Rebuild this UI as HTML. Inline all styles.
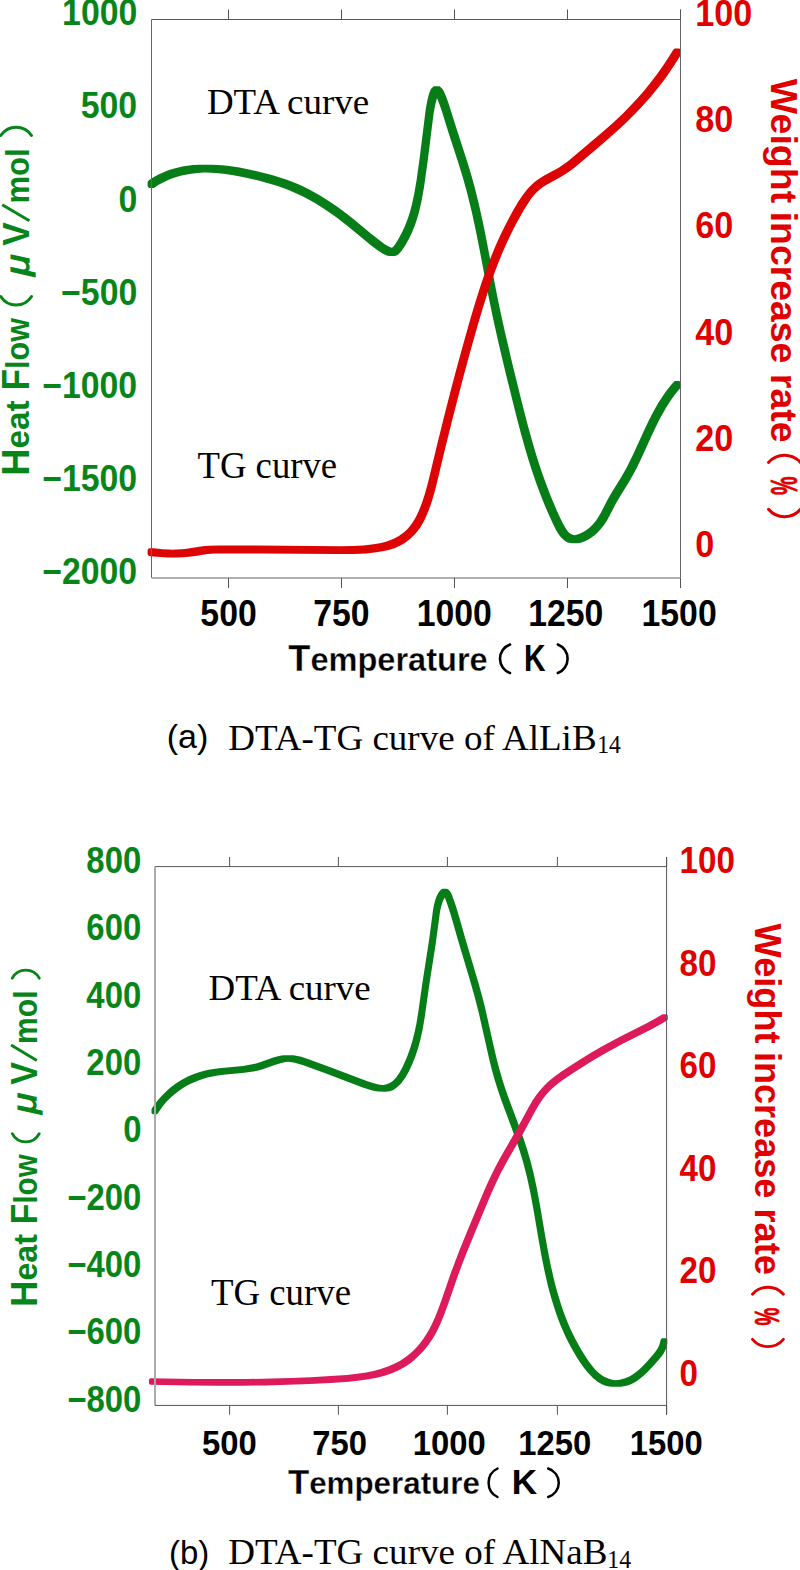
<!DOCTYPE html>
<html><head><meta charset="utf-8"><style>
html,body{margin:0;padding:0;background:#fff;width:800px;height:1570px;overflow:hidden}
svg{display:block}
</style></head><body>
<svg width="800" height="1570" viewBox="0 0 800 1570">
<rect width="800" height="1570" fill="#fff"/>
<path d="M182.29,166.58L174.32,168.43L169.11,170.06L166.53,171.00L161.44,173.14L158.93,174.34L153.99,177.03L149.16,180.10L147.60,181.66L147.60,186.34L149.16,187.90L153.84,187.90L158.67,184.83L163.61,182.14L168.65,179.83L171.21,178.80L176.38,177.01L181.64,175.54L189.66,173.91L195.08,173.18L203.29,172.57L206.90,172.50L215.24,172.91L223.60,173.74L231.95,174.92L240.25,176.41L248.47,178.14L256.60,180.05L264.60,182.13L272.50,184.42L277.70,186.09L287.97,189.82L293.03,191.90L298.06,194.15L303.05,196.57L310.43,200.50L315.29,203.30L322.46,207.73L329.47,212.40L336.30,217.27L347.24,225.70L363.96,239.60L370.53,244.89L377.56,250.18L382.54,253.54L385.03,254.87L387.45,255.74L389.76,256.01L394.44,256.01L396.60,255.52L398.54,254.15L400.10,252.59L401.86,250.53L405.05,245.73L409.23,238.32L411.65,233.26L414.80,225.53L416.61,220.29L418.94,212.31L421.46,201.51L423.91,187.83L427.41,163.07L433.53,113.90L435.11,105.24L436.98,98.12L439.68,104.96L441.64,110.62L448.14,131.45L458.39,163.08L463.29,179.10L467.00,192.51L471.63,211.35L475.74,230.26L479.52,249.22L487.79,292.71L492.81,317.21L498.88,344.42L505.95,374.21L516.59,417.12L520.78,433.07L524.47,446.31L528.40,459.52L531.76,470.08L536.27,483.25L540.16,493.78L544.33,504.30L548.83,514.83L553.67,525.35L556.28,530.44L557.69,532.80L559.18,534.99L560.78,536.94L564.06,540.18L565.91,541.55L567.91,542.54L570.09,543.12L572.44,543.25L577.12,543.25L579.60,542.96L582.18,542.30L584.81,541.31L587.44,540.03L590.03,538.51L592.52,536.79L594.88,534.91L597.06,532.91L600.62,529.26L604.14,524.85L607.16,520.18L609.84,515.35L614.83,505.50L617.46,500.64L620.29,495.89L629.12,481.79L633.22,474.57L637.05,467.20L640.68,459.72L652.21,434.52L655.76,427.01L659.46,419.60L662.06,414.73L666.19,407.55L670.66,400.57L675.54,393.82L680.90,387.34L680.90,382.66L679.34,381.10L674.66,381.10L673.10,382.66L671.26,384.79L666.07,391.37L662.86,395.89L658.39,402.87L654.26,410.05L649.17,419.85L644.41,429.84L632.88,455.04L626.72,467.44L621.32,477.11L612.49,491.21L609.66,495.96L607.03,500.82L600.73,513.10L597.90,517.86L596.34,520.17L592.82,524.58L590.20,527.11L587.84,528.99L585.35,530.71L582.76,532.23L580.13,533.51L577.50,534.50L574.41,535.22L572.59,534.74L570.59,533.75L568.74,532.38L566.98,530.31L565.49,528.12L562.75,523.26L560.22,518.04L556.63,510.15L551.06,496.99L545.98,483.83L541.32,470.67L537.02,457.48L533.04,444.28L527.87,425.73L521.68,401.77L511.79,361.43L504.81,331.58L500.61,312.53L497.21,296.20L486.79,241.83L482.98,222.87L478.80,203.97L474.80,187.83L471.86,177.10L467.86,163.73L455.94,126.77L448.50,103.16L446.36,97.29L443.83,91.34L442.49,89.05L439.61,86.17L433.67,86.16L430.93,89.07L429.85,91.41L428.88,94.35L427.31,100.56L425.73,109.22L419.96,155.64L416.54,180.40L414.20,194.11L411.83,204.95L409.63,212.96L407.93,218.24L404.96,226.02L402.67,231.12L398.72,238.61L395.70,243.48L394.06,245.85L393.29,246.75L391.92,247.72L391.68,247.78L389.71,247.07L387.22,245.74L384.71,244.13L379.83,240.62L370.79,233.56L354.03,219.61L347.62,214.49L338.73,207.83L329.50,201.46L319.97,195.50L310.20,190.04L302.74,186.35L297.71,184.10L292.65,182.02L287.53,180.09L279.78,177.44L271.93,175.07L263.96,172.92L255.87,170.95L247.68,169.16L239.40,167.59L231.07,166.30L222.71,165.34L217.14,164.93L211.58,164.70L204.13,164.67L198.61,164.77L193.12,165.11L187.68,165.71L182.29,166.58Z" fill="#067d17" fill-rule="nonzero"/>
<path d="M209.23,545.80L205.09,546.10L200.97,546.59L186.58,548.81L182.45,549.24L176.23,549.62L172.99,549.71L168.44,549.57L162.18,549.17L153.84,548.30L149.16,548.30L147.60,549.86L147.60,554.54L149.16,556.10L153.33,556.58L163.76,557.37L167.92,557.50L176.76,557.52L182.99,557.33L189.19,556.84L195.37,556.05L207.71,554.12L213.91,553.60L220.15,553.38L263.36,553.46L338.47,554.09L353.59,553.98L366.08,553.40L374.36,552.59L382.57,551.35L388.67,550.04L392.66,548.86L394.63,548.15L396.56,547.36L400.33,545.55L403.95,543.44L405.69,542.27L409.01,539.74L410.59,538.38L415.13,533.90L417.83,530.75L420.26,527.38L422.44,523.84L424.42,520.16L426.21,516.37L428.61,510.57L430.74,504.68L432.65,498.73L434.37,492.73L436.47,484.67L445.21,448.21L452.22,419.89L463.21,377.52L470.33,351.37L477.70,325.30L483.03,307.32L488.06,291.44L491.39,281.58L494.91,271.79L498.62,262.07L501.77,254.36L505.92,244.80L509.44,237.23L514.07,227.87L517.98,220.48L524.17,209.55L528.60,202.49L530.98,199.11L533.50,195.86L536.19,192.77L537.52,191.45L540.63,188.78L542.27,187.54L545.73,185.25L549.37,183.13L560.61,177.11L565.97,173.82L571.04,170.21L575.91,166.38L601.32,144.99L615.45,132.61L621.60,126.95L627.62,121.19L635.08,113.74L640.83,107.73L650.55,96.90L658.48,87.28L663.55,80.69L667.24,75.65L674.29,65.32L680.90,54.64L680.90,49.96L679.34,48.40L674.66,48.40L673.10,49.96L668.75,57.12L663.02,65.85L656.99,74.34L650.68,82.60L644.09,90.64L637.25,98.46L630.17,106.07L622.94,113.39L612.32,123.40L601.39,133.11L575.99,154.62L568.00,161.15L563.01,164.85L559.54,167.16L555.93,169.31L544.69,175.33L541.05,177.45L537.59,179.74L534.36,182.28L531.37,185.06L528.39,188.09L525.70,191.18L523.18,194.43L518.54,201.31L513.22,210.31L509.19,217.64L504.39,226.92L499.86,236.33L495.60,245.84L491.59,255.46L487.83,265.16L484.28,274.94L480.91,284.79L475.84,300.65L470.48,318.62L463.09,344.68L455.95,370.82L450.10,392.99L444.42,415.21L437.41,443.53L428.67,479.99L426.57,488.05L424.85,494.05L422.94,500.00L420.81,505.89L418.41,511.69L416.62,515.48L414.64,519.16L412.46,522.70L410.03,526.07L407.33,529.22L404.33,531.94L402.70,533.24L399.27,535.64L397.48,536.73L393.78,538.69L389.95,540.35L386.00,541.69L379.94,543.16L371.74,544.52L363.48,545.43L353.09,546.06L341.31,546.28L251.39,545.58L219.63,545.54L209.23,545.80Z" fill="#dc0404" fill-rule="nonzero"/>
<path d="M273.99,1057.32L261.35,1061.80L256.21,1063.38L253.62,1064.03L248.37,1065.09L243.08,1065.89L237.74,1066.49L219.03,1068.20L213.74,1068.89L208.50,1069.79L203.33,1070.98L198.26,1072.47L193.29,1074.26L188.43,1076.35L183.72,1078.72L181.42,1080.02L176.94,1082.82L174.76,1084.33L170.55,1087.55L168.52,1089.26L164.61,1092.90L161.42,1096.13L157.86,1100.17L154.55,1104.47L152.99,1106.71L151.50,1109.02L151.50,1112.98L152.82,1114.30L156.78,1114.30L158.10,1112.98L161.15,1108.43L162.77,1106.24L166.21,1102.08L170.50,1097.65L174.51,1094.15L178.72,1090.93L180.90,1089.42L185.38,1086.62L187.68,1085.32L192.39,1082.95L199.72,1079.93L207.29,1077.58L212.46,1076.39L217.70,1075.49L225.65,1074.52L244.37,1072.81L249.69,1072.12L254.96,1071.20L260.17,1069.98L262.75,1069.24L275.42,1064.75L280.48,1063.17L285.57,1062.09L288.03,1061.82L292.04,1062.26L294.69,1062.79L297.35,1063.45L302.63,1065.09L325.31,1073.37L362.78,1087.49L368.12,1089.31L373.41,1090.75L376.01,1091.25L378.56,1091.56L385.00,1091.67L387.41,1091.53L389.73,1091.13L391.95,1090.42L394.06,1089.40L396.06,1088.09L397.95,1086.51L399.27,1085.19L401.07,1083.38L402.77,1081.37L405.89,1076.84L408.69,1071.86L412.33,1064.04L415.40,1056.24L417.97,1048.47L420.11,1040.73L422.43,1030.43L424.68,1017.54L429.11,986.11L435.75,943.58L439.96,912.06L441.18,906.43L442.04,903.51L443.10,900.57L444.60,897.38L445.34,898.92L447.46,904.66L451.03,915.75L458.32,941.22L468.95,976.82L474.10,994.84L476.85,1005.20L479.39,1015.60L489.36,1059.86L491.96,1070.19L494.83,1080.44L498.03,1090.60L501.51,1100.69L512.67,1130.76L517.17,1143.32L520.52,1153.44L523.54,1163.64L526.83,1176.52L530.21,1192.12L533.15,1207.85L539.00,1242.09L541.37,1255.25L544.51,1270.95L547.48,1283.93L549.46,1291.66L551.60,1299.33L555.61,1311.98L558.30,1319.48L560.23,1324.43L563.33,1331.78L565.55,1336.63L569.12,1343.83L571.67,1348.56L577.19,1357.89L580.18,1362.48L583.34,1366.99L586.69,1371.30L588.46,1373.34L593.50,1378.43L595.48,1380.12L597.53,1381.66L599.66,1383.03L601.89,1384.22L604.20,1385.20L606.62,1385.97L609.14,1386.50L611.75,1386.80L618.38,1386.86L621.07,1386.69L623.76,1386.31L626.42,1385.71L629.00,1384.91L631.49,1383.92L633.89,1382.74L636.19,1381.41L640.54,1378.32L642.61,1376.61L646.57,1372.92L653.46,1365.71L658.76,1359.77L662.02,1355.75L663.47,1353.63L664.76,1351.37L665.85,1348.95L666.71,1346.33L667.30,1343.48L667.30,1339.52L665.98,1338.20L662.02,1338.20L660.70,1339.52L660.11,1342.37L659.25,1344.99L658.16,1347.41L656.87,1349.67L653.84,1353.83L646.86,1361.75L642.16,1366.75L638.65,1370.01L634.44,1373.33L632.23,1374.81L629.93,1376.14L627.53,1377.32L625.04,1378.31L622.46,1379.11L619.80,1379.71L615.59,1380.18L613.10,1379.90L610.58,1379.37L608.16,1378.60L605.85,1377.62L603.62,1376.43L601.49,1375.06L599.44,1373.52L597.46,1371.83L595.06,1369.38L593.29,1367.34L589.94,1363.03L586.78,1358.52L580.96,1349.30L575.72,1339.87L571.02,1330.25L568.87,1325.38L565.85,1318.00L563.98,1313.03L561.36,1305.51L557.47,1292.82L555.38,1285.13L553.46,1277.39L550.56,1264.38L547.97,1251.29L545.60,1238.13L539.75,1203.89L536.81,1188.16L533.43,1172.56L530.14,1159.68L527.12,1149.48L523.77,1139.36L519.27,1126.80L508.11,1096.73L504.63,1086.64L502.20,1079.03L499.25,1068.80L496.59,1058.49L493.54,1045.52L485.37,1009.03L482.10,996.05L478.54,983.14L465.66,939.79L459.18,917.04L455.94,906.36L454.06,900.70L451.94,894.96L450.79,892.54L449.57,890.77L448.25,889.45L446.98,888.63L443.02,888.63L441.69,888.97L439.02,891.71L437.71,893.91L436.50,896.61L435.44,899.55L434.58,902.47L433.90,905.32L432.94,910.83L429.15,939.62L422.51,982.15L418.08,1013.58L416.33,1023.90L414.74,1031.62L412.84,1039.35L410.57,1047.10L407.84,1054.87L405.73,1060.08L402.09,1067.90L399.29,1072.88L396.17,1077.41L393.93,1079.97L392.10,1081.49L390.10,1082.80L387.99,1083.82L385.77,1084.53L383.45,1084.93L382.52,1084.96L379.97,1084.65L377.37,1084.15L372.08,1082.71L366.74,1080.89L331.70,1067.67L309.21,1059.40L301.31,1056.85L296.00,1055.66L293.36,1055.31L290.74,1055.15L284.18,1055.21L281.61,1055.49L279.05,1055.95L273.99,1057.32Z" fill="#067d17" fill-rule="nonzero"/>
<path d="M150.27,1384.80L189.34,1385.48L215.75,1385.70L242.52,1385.68L265.34,1385.41L288.23,1384.85L309.47,1384.05L330.86,1382.92L348.83,1381.68L359.56,1380.59L368.37,1379.34L377.01,1377.65L385.41,1375.42L391.92,1373.17L398.20,1370.46L404.23,1367.23L407.14,1365.40L409.98,1363.42L414.08,1360.17L417.99,1356.60L421.80,1352.75L425.36,1348.73L428.69,1344.49L431.77,1340.07L434.60,1335.48L437.16,1330.77L440.93,1322.72L444.89,1312.86L448.49,1302.91L457.71,1276.27L461.40,1266.35L465.88,1254.82L473.20,1236.78L487.48,1202.45L491.63,1192.69L495.23,1184.63L500.58,1173.52L506.39,1162.64L523.16,1133.52L535.84,1110.06L539.45,1104.04L543.39,1098.29L545.51,1095.55L548.91,1091.64L551.25,1089.27L553.82,1086.93L556.50,1084.69L560.68,1081.47L569.41,1075.42L579.86,1068.65L588.90,1063.02L598.03,1057.55L607.24,1052.26L622.79,1043.87L651.08,1029.52L658.84,1025.29L664.96,1021.72L666.48,1020.80L667.80,1019.48L667.80,1015.52L666.48,1014.20L662.52,1014.20L654.88,1018.69L647.12,1022.92L620.40,1036.46L611.02,1041.39L601.74,1046.53L591.02,1052.75L580.41,1059.22L569.91,1065.89L561.04,1071.79L555.31,1075.93L549.86,1080.33L546.04,1083.87L541.15,1088.96L537.84,1092.95L535.77,1095.74L532.85,1100.08L528.37,1107.64L516.56,1129.56L503.27,1152.55L498.09,1161.77L493.18,1171.13L488.63,1180.67L485.03,1188.73L480.88,1198.49L466.60,1232.82L459.28,1250.86L454.80,1262.39L451.11,1272.31L441.89,1298.95L438.29,1308.90L435.02,1317.13L431.36,1325.22L428.88,1329.96L426.14,1334.59L423.14,1339.08L419.89,1343.38L416.41,1347.48L414.03,1350.00L410.12,1353.57L406.02,1356.82L403.18,1358.80L400.27,1360.63L394.24,1363.86L387.96,1366.57L381.45,1368.82L374.75,1370.65L366.16,1372.44L357.37,1373.77L346.66,1374.92L330.49,1376.10L310.84,1377.20L291.33,1378.02L271.93,1378.59L247.34,1379.01L221.46,1379.10L193.30,1378.88L150.27,1378.20L148.95,1379.52L148.95,1383.48L150.27,1384.80Z" fill="#dd1b5a" fill-rule="nonzero"/>
<line x1="151.50" y1="19.50" x2="680.50" y2="19.50" stroke="#555" stroke-width="1.00"/>
<line x1="151.50" y1="19.50" x2="151.50" y2="578.00" stroke="#666" stroke-width="1.00"/>
<line x1="680.50" y1="9.50" x2="680.50" y2="588.00" stroke="#666" stroke-width="1.00"/>
<line x1="151.50" y1="578.00" x2="680.50" y2="578.00" stroke="#b0b0b0" stroke-width="2.00"/>
<line x1="228.50" y1="9.50" x2="228.50" y2="19.50" stroke="#555" stroke-width="1.00"/>
<line x1="228.50" y1="578.00" x2="228.50" y2="588.00" stroke="#555" stroke-width="1.00"/>
<line x1="341.50" y1="9.50" x2="341.50" y2="19.50" stroke="#555" stroke-width="1.00"/>
<line x1="341.50" y1="578.00" x2="341.50" y2="588.00" stroke="#555" stroke-width="1.00"/>
<line x1="454.50" y1="9.50" x2="454.50" y2="19.50" stroke="#555" stroke-width="1.00"/>
<line x1="454.50" y1="578.00" x2="454.50" y2="588.00" stroke="#555" stroke-width="1.00"/>
<line x1="567.50" y1="9.50" x2="567.50" y2="19.50" stroke="#555" stroke-width="1.00"/>
<line x1="567.50" y1="578.00" x2="567.50" y2="588.00" stroke="#555" stroke-width="1.00"/>
<line x1="680.50" y1="9.50" x2="680.50" y2="19.50" stroke="#555" stroke-width="1.00"/>
<line x1="680.50" y1="578.00" x2="680.50" y2="588.00" stroke="#555" stroke-width="1.00"/>
<path d="M510.00,644.50 A15.15,15.15 0 0 0 510.00,673.00" fill="none" stroke="#000" stroke-width="2.60" stroke-linecap="round"/>
<path d="M557.80,644.50 A15.26,15.26 0 0 1 557.80,673.00" fill="none" stroke="#000" stroke-width="2.60" stroke-linecap="round"/>
<line x1="2.20" y1="204.80" x2="29.40" y2="220.80" stroke="#088519" stroke-width="3.00" stroke-linecap="butt"/>
<path d="M0.80,296.50 A18.11,18.11 0 0 0 31.50,296.50" fill="none" stroke="#088519" stroke-width="3.00" stroke-linecap="round"/>
<path d="M0.80,135.50 A18.34,18.34 0 0 1 31.50,135.50" fill="none" stroke="#088519" stroke-width="3.00" stroke-linecap="round"/>
<path d="M768.50,462.50 A21.38,21.38 0 0 1 800.50,462.50" fill="none" stroke="#e00000" stroke-width="3.00" stroke-linecap="round"/>
<path d="M768.50,509.30 A20.82,20.82 0 0 0 800.50,509.30" fill="none" stroke="#e00000" stroke-width="3.00" stroke-linecap="round"/>
<line x1="155.00" y1="866.60" x2="666.60" y2="866.60" stroke="#555" stroke-width="1.00"/>
<line x1="155.00" y1="866.60" x2="155.00" y2="1405.40" stroke="#aaa" stroke-width="2.00"/>
<line x1="666.60" y1="857.00" x2="666.60" y2="1414.70" stroke="#555" stroke-width="1.00"/>
<line x1="155.00" y1="1405.40" x2="666.60" y2="1405.40" stroke="#555" stroke-width="1.00"/>
<line x1="229.60" y1="857.00" x2="229.60" y2="866.60" stroke="#555" stroke-width="1.00"/>
<line x1="229.60" y1="1405.40" x2="229.60" y2="1414.70" stroke="#555" stroke-width="1.00"/>
<line x1="338.40" y1="857.00" x2="338.40" y2="866.60" stroke="#555" stroke-width="1.00"/>
<line x1="338.40" y1="1405.40" x2="338.40" y2="1414.70" stroke="#555" stroke-width="1.00"/>
<line x1="447.40" y1="857.00" x2="447.40" y2="866.60" stroke="#555" stroke-width="1.00"/>
<line x1="447.40" y1="1405.40" x2="447.40" y2="1414.70" stroke="#555" stroke-width="1.00"/>
<line x1="557.40" y1="857.00" x2="557.40" y2="866.60" stroke="#555" stroke-width="1.00"/>
<line x1="557.40" y1="1405.40" x2="557.40" y2="1414.70" stroke="#555" stroke-width="1.00"/>
<line x1="666.60" y1="857.00" x2="666.60" y2="866.60" stroke="#555" stroke-width="1.00"/>
<line x1="666.60" y1="1405.40" x2="666.60" y2="1414.70" stroke="#555" stroke-width="1.00"/>
<path d="M497.50,1468.50 A15.86,15.86 0 0 0 497.50,1497.00" fill="none" stroke="#000" stroke-width="2.50" stroke-linecap="round"/>
<path d="M548.20,1468.50 A14.88,14.88 0 0 1 548.20,1497.00" fill="none" stroke="#000" stroke-width="2.50" stroke-linecap="round"/>
<line x1="11.05" y1="1045.07" x2="36.84" y2="1060.53" stroke="#088519" stroke-width="2.90" stroke-linecap="butt"/>
<path d="M12.27,1133.67 A15.17,15.17 0 0 0 39.24,1133.67" fill="none" stroke="#088519" stroke-width="2.90" stroke-linecap="round"/>
<path d="M12.27,978.11 A15.34,15.34 0 0 1 39.24,978.11" fill="none" stroke="#088519" stroke-width="2.90" stroke-linecap="round"/>
<path d="M752.50,1294.18 A20.64,20.64 0 0 1 783.40,1294.18" fill="none" stroke="#e00000" stroke-width="2.90" stroke-linecap="round"/>
<path d="M752.50,1339.38 A20.10,20.10 0 0 0 783.40,1339.38" fill="none" stroke="#e00000" stroke-width="2.90" stroke-linecap="round"/>
<text transform="translate(62.12,25.44) scale(0.3380,0.3680)" font-family="Liberation Sans" font-weight="bold" font-size="100" fill="#088519">1000</text>
<text transform="translate(80.71,118.49) scale(0.3380,0.3680)" font-family="Liberation Sans" font-weight="bold" font-size="100" fill="#088519">500</text>
<text transform="translate(118.56,211.54) scale(0.3380,0.3680)" font-family="Liberation Sans" font-weight="bold" font-size="100" fill="#088519">0</text>
<text transform="translate(61.10,304.59) scale(0.3380,0.3680)" font-family="Liberation Sans" font-weight="bold" font-size="100" fill="#088519">−500</text>
<text transform="translate(42.17,397.64) scale(0.3380,0.3680)" font-family="Liberation Sans" font-weight="bold" font-size="100" fill="#088519">−1000</text>
<text transform="translate(42.17,490.69) scale(0.3380,0.3680)" font-family="Liberation Sans" font-weight="bold" font-size="100" fill="#088519">−1500</text>
<text transform="translate(42.17,583.74) scale(0.3380,0.3680)" font-family="Liberation Sans" font-weight="bold" font-size="100" fill="#088519">−2000</text>
<text transform="translate(695.30,25.60) scale(0.3420,0.3680)" font-family="Liberation Sans" font-weight="bold" font-size="100" fill="#e00000">100</text>
<text transform="translate(695.30,131.95) scale(0.3420,0.3680)" font-family="Liberation Sans" font-weight="bold" font-size="100" fill="#e00000">80</text>
<text transform="translate(695.30,238.30) scale(0.3420,0.3680)" font-family="Liberation Sans" font-weight="bold" font-size="100" fill="#e00000">60</text>
<text transform="translate(695.30,344.65) scale(0.3420,0.3680)" font-family="Liberation Sans" font-weight="bold" font-size="100" fill="#e00000">40</text>
<text transform="translate(695.30,451.00) scale(0.3420,0.3680)" font-family="Liberation Sans" font-weight="bold" font-size="100" fill="#e00000">20</text>
<text transform="translate(695.30,557.35) scale(0.3420,0.3680)" font-family="Liberation Sans" font-weight="bold" font-size="100" fill="#e00000">0</text>
<text transform="translate(200.35,625.80) scale(0.3380,0.3640)" font-family="Liberation Sans" font-weight="bold" font-size="100" fill="#000">500</text>
<text transform="translate(313.28,625.80) scale(0.3380,0.3640)" font-family="Liberation Sans" font-weight="bold" font-size="100" fill="#000">750</text>
<text transform="translate(416.74,625.80) scale(0.3380,0.3640)" font-family="Liberation Sans" font-weight="bold" font-size="100" fill="#000">1000</text>
<text transform="translate(528.14,625.80) scale(0.3380,0.3640)" font-family="Liberation Sans" font-weight="bold" font-size="100" fill="#000">1250</text>
<text transform="translate(641.54,625.80) scale(0.3380,0.3640)" font-family="Liberation Sans" font-weight="bold" font-size="100" fill="#000">1500</text>
<text transform="translate(288.34,671.00) scale(0.3618,0.3780)" font-family="Liberation Sans" font-weight="bold" font-size="100" fill="#000" stroke="#fff" stroke-width="0.80" stroke-linejoin="round">T<tspan font-size="90.0">emperature</tspan></text>
<text transform="translate(523.91,671.00) scale(0.2984,0.3780)" font-family="Liberation Sans" font-weight="bold" font-size="100" fill="#000">K</text>
<text transform="translate(206.89,114.20) scale(0.3695,0.3600)" font-family="Liberation Serif" font-weight="normal" font-size="100" fill="#000">DTA curve</text>
<text transform="translate(197.47,478.25) scale(0.3672,0.3700)" font-family="Liberation Serif" font-weight="normal" font-size="100" fill="#000">TG curve</text>
<text transform="translate(166.70,748.30) scale(0.3409,0.3390)" font-family="Liberation Sans" font-weight="normal" font-size="100" fill="#000">(a)</text>
<text transform="translate(228.29,749.75) scale(0.3704,0.3660)" font-family="Liberation Serif" font-weight="normal" font-size="100" fill="#000">DTA-TG curve of AlLiB</text>
<text transform="translate(597.28,753.20) scale(0.2360,0.2580)" font-family="Liberation Serif" font-weight="normal" font-size="100" fill="#000">14</text>
<text transform="translate(29.30,475.85) rotate(-90) scale(0.3785,0.3800)" font-family="Liberation Sans" font-weight="bold" font-size="100" fill="#088519">H<tspan font-size="88.0">eat</tspan></text>
<text transform="translate(29.30,390.13) rotate(-90) scale(0.3478,0.3800)" font-family="Liberation Sans" font-weight="bold" font-size="100" fill="#088519">F<tspan font-size="88.0">low</tspan></text>
<text transform="translate(29.30,245.85) rotate(-90) scale(0.3538,0.3750)" font-family="Liberation Sans" font-weight="bold" font-size="100" fill="#088519">V</text>
<text transform="translate(29.30,203.62) rotate(-90) scale(0.3535,0.3800)" font-family="Liberation Sans" font-weight="bold" font-size="100" fill="#088519"><tspan font-size="88.0">mol</tspan></text>
<text transform="translate(28.80,275.81) rotate(-90) scale(0.4449,0.3800)" font-family="Liberation Sans" font-weight="normal" font-size="100" fill="#088519" font-style="italic" stroke="#088519" stroke-width="3.00"><tspan font-size="88.0">μ</tspan></text>
<text transform="translate(770.70,78.80) rotate(90) scale(0.3752,0.3750)" font-family="Liberation Sans" font-weight="bold" font-size="100" fill="#e00000">Weight</text>
<text transform="translate(770.70,211.68) rotate(90) scale(0.3737,0.3750)" font-family="Liberation Sans" font-weight="bold" font-size="100" fill="#e00000">increase</text>
<text transform="translate(770.70,373.77) rotate(90) scale(0.3757,0.3750)" font-family="Liberation Sans" font-weight="bold" font-size="100" fill="#e00000">rate</text>
<text transform="translate(770.70,476.48) rotate(90) scale(0.2072,0.3700)" font-family="Liberation Sans" font-weight="bold" font-size="100" fill="#e00000" stroke="#e00000" stroke-width="2.00">%</text>
<text transform="translate(86.37,872.90) scale(0.3290,0.3610)" font-family="Liberation Sans" font-weight="bold" font-size="100" fill="#088519">800</text>
<text transform="translate(86.37,940.24) scale(0.3290,0.3610)" font-family="Liberation Sans" font-weight="bold" font-size="100" fill="#088519">600</text>
<text transform="translate(86.37,1007.58) scale(0.3290,0.3610)" font-family="Liberation Sans" font-weight="bold" font-size="100" fill="#088519">400</text>
<text transform="translate(86.37,1074.92) scale(0.3290,0.3610)" font-family="Liberation Sans" font-weight="bold" font-size="100" fill="#088519">200</text>
<text transform="translate(123.22,1142.26) scale(0.3290,0.3610)" font-family="Liberation Sans" font-weight="bold" font-size="100" fill="#088519">0</text>
<text transform="translate(67.29,1209.60) scale(0.3290,0.3610)" font-family="Liberation Sans" font-weight="bold" font-size="100" fill="#088519">−200</text>
<text transform="translate(67.29,1276.94) scale(0.3290,0.3610)" font-family="Liberation Sans" font-weight="bold" font-size="100" fill="#088519">−400</text>
<text transform="translate(67.29,1344.28) scale(0.3290,0.3610)" font-family="Liberation Sans" font-weight="bold" font-size="100" fill="#088519">−600</text>
<text transform="translate(67.29,1411.62) scale(0.3290,0.3610)" font-family="Liberation Sans" font-weight="bold" font-size="100" fill="#088519">−800</text>
<text transform="translate(679.50,872.90) scale(0.3320,0.3610)" font-family="Liberation Sans" font-weight="bold" font-size="100" fill="#e00000">100</text>
<text transform="translate(679.50,975.52) scale(0.3320,0.3610)" font-family="Liberation Sans" font-weight="bold" font-size="100" fill="#e00000">80</text>
<text transform="translate(679.50,1078.14) scale(0.3320,0.3610)" font-family="Liberation Sans" font-weight="bold" font-size="100" fill="#e00000">60</text>
<text transform="translate(679.50,1180.76) scale(0.3320,0.3610)" font-family="Liberation Sans" font-weight="bold" font-size="100" fill="#e00000">40</text>
<text transform="translate(679.50,1283.38) scale(0.3320,0.3610)" font-family="Liberation Sans" font-weight="bold" font-size="100" fill="#e00000">20</text>
<text transform="translate(679.50,1386.00) scale(0.3320,0.3610)" font-family="Liberation Sans" font-weight="bold" font-size="100" fill="#e00000">0</text>
<text transform="translate(202.03,1454.80) scale(0.3280,0.3520)" font-family="Liberation Sans" font-weight="bold" font-size="100" fill="#000">500</text>
<text transform="translate(312.36,1454.80) scale(0.3280,0.3520)" font-family="Liberation Sans" font-weight="bold" font-size="100" fill="#000">750</text>
<text transform="translate(412.86,1454.80) scale(0.3280,0.3520)" font-family="Liberation Sans" font-weight="bold" font-size="100" fill="#000">1000</text>
<text transform="translate(518.26,1454.80) scale(0.3280,0.3520)" font-family="Liberation Sans" font-weight="bold" font-size="100" fill="#000">1250</text>
<text transform="translate(629.66,1454.80) scale(0.3280,0.3520)" font-family="Liberation Sans" font-weight="bold" font-size="100" fill="#000">1500</text>
<text transform="translate(287.90,1494.00) scale(0.3482,0.3560)" font-family="Liberation Sans" font-weight="bold" font-size="100" fill="#000" stroke="#fff" stroke-width="0.80" stroke-linejoin="round">T<tspan font-size="90.0">emperature</tspan></text>
<text transform="translate(511.84,1494.00) scale(0.3516,0.3560)" font-family="Liberation Sans" font-weight="bold" font-size="100" fill="#000">K</text>
<text transform="translate(208.59,1000.40) scale(0.3693,0.3600)" font-family="Liberation Serif" font-weight="normal" font-size="100" fill="#000">DTA curve</text>
<text transform="translate(210.96,1305.40) scale(0.3683,0.3700)" font-family="Liberation Serif" font-weight="normal" font-size="100" fill="#000">TG curve</text>
<text transform="translate(169.02,1563.50) scale(0.3295,0.3300)" font-family="Liberation Sans" font-weight="normal" font-size="100" fill="#000">(b)</text>
<text transform="translate(228.29,1564.40) scale(0.3710,0.3600)" font-family="Liberation Serif" font-weight="normal" font-size="100" fill="#000">DTA-TG curve of AlNaB</text>
<text transform="translate(607.26,1568.10) scale(0.2382,0.2450)" font-family="Liberation Serif" font-weight="normal" font-size="100" fill="#000">14</text>
<text transform="translate(36.74,1306.96) rotate(-90) scale(0.3657,0.3672)" font-family="Liberation Sans" font-weight="bold" font-size="100" fill="#088519">H<tspan font-size="88.0">eat</tspan></text>
<text transform="translate(36.74,1224.14) rotate(-90) scale(0.3360,0.3672)" font-family="Liberation Sans" font-weight="bold" font-size="100" fill="#088519">F<tspan font-size="88.0">low</tspan></text>
<text transform="translate(36.74,1084.74) rotate(-90) scale(0.3419,0.3623)" font-family="Liberation Sans" font-weight="bold" font-size="100" fill="#088519">V</text>
<text transform="translate(36.74,1043.93) rotate(-90) scale(0.3415,0.3672)" font-family="Liberation Sans" font-weight="bold" font-size="100" fill="#088519"><tspan font-size="88.0">mol</tspan></text>
<text transform="translate(36.27,1113.68) rotate(-90) scale(0.4299,0.3672)" font-family="Liberation Sans" font-weight="normal" font-size="100" fill="#088519" font-style="italic" stroke="#088519" stroke-width="3.00"><tspan font-size="88.0">μ</tspan></text>
<text transform="translate(754.50,923.60) rotate(90) scale(0.3623,0.3622)" font-family="Liberation Sans" font-weight="bold" font-size="100" fill="#e00000">Weight</text>
<text transform="translate(754.50,1051.94) rotate(90) scale(0.3609,0.3622)" font-family="Liberation Sans" font-weight="bold" font-size="100" fill="#e00000">increase</text>
<text transform="translate(754.50,1208.49) rotate(90) scale(0.3629,0.3622)" font-family="Liberation Sans" font-weight="bold" font-size="100" fill="#e00000">rate</text>
<text transform="translate(754.50,1307.68) rotate(90) scale(0.2001,0.3574)" font-family="Liberation Sans" font-weight="bold" font-size="100" fill="#e00000" stroke="#e00000" stroke-width="2.00">%</text>
</svg>
</body></html>
